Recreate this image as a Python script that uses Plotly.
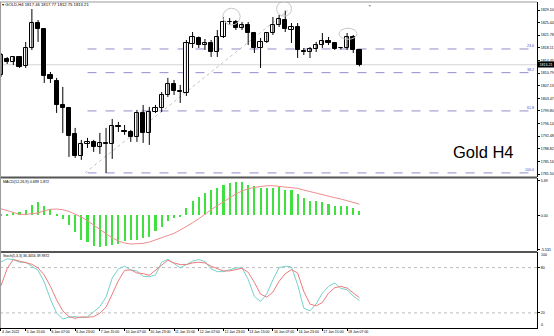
import plotly.graph_objects as go

# ---------------- data ----------------
opens = [1810.25, 1814.89, 1814.02, 1815.47, 1812.86, 1818.08, 1825.33, 1823.59, 1810.25, 1808.51,
         1801.55, 1800.68, 1793.14, 1786.76, 1790.24, 1790.82, 1789.37, 1790.53, 1790.24, 1795.46,
         1794.01, 1793.72, 1792.27, 1799.23, 1793.43, 1799.52, 1800.68, 1804.45, 1807.64, 1805.61,
         1805.03, 1819.24, 1820.98, 1818.95, 1819.53, 1816.92, 1821.27, 1825.68, 1825.62, 1823.88,
         1824.75, 1822.43, 1818.08, 1819.82, 1822.43, 1824.75, 1826.20, 1823.30, 1824.17, 1817.01,
         1816.92, 1817.79, 1818.95, 1820.11, 1819.53, 1818.08, 1818.08, 1821.27, 1817.46]
highs = [1816.63, 1815.47, 1815.76, 1815.76, 1819.82, 1829.39, 1826.20, 1823.88, 1811.12, 1809.38,
         1806.77, 1800.97, 1794.88, 1791.40, 1791.98, 1791.40, 1793.43, 1794.88, 1797.49, 1796.62,
         1795.75, 1794.30, 1800.10, 1801.55, 1800.97, 1801.55, 1805.32, 1809.38, 1808.80, 1807.35,
         1820.40, 1822.72, 1821.41, 1820.69, 1820.40, 1823.30, 1827.07, 1826.78, 1826.20, 1825.62,
         1825.62, 1822.72, 1820.98, 1822.72, 1827.07, 1827.65, 1828.90, 1825.33, 1825.33, 1818.08,
         1818.37, 1819.82, 1822.43, 1821.27, 1819.82, 1818.37, 1822.43, 1821.85, 1817.77]
lows = [1809.67, 1813.44, 1813.15, 1812.28, 1812.28, 1817.50, 1819.82, 1807.93, 1807.93, 1799.23,
        1793.43, 1786.47, 1786.18, 1785.60, 1789.08, 1787.92, 1787.34, 1781.83, 1785.89, 1793.72,
        1792.85, 1790.82, 1790.82, 1790.53, 1789.95, 1799.23, 1799.52, 1803.87, 1804.45, 1802.13,
        1804.16, 1818.08, 1818.08, 1817.50, 1815.47, 1815.47, 1820.98, 1824.75, 1823.30, 1823.30,
        1818.95, 1816.63, 1812.28, 1819.53, 1821.85, 1824.17, 1822.72, 1819.53, 1815.18, 1816.05,
        1815.18, 1816.92, 1818.08, 1818.95, 1817.50, 1817.65, 1817.50, 1816.63, 1812.75]
closes = [1816.05, 1814.02, 1815.47, 1812.57, 1818.08, 1825.33, 1823.59, 1809.96, 1809.09, 1801.55,
          1800.68, 1792.56, 1786.76, 1790.24, 1790.82, 1789.37, 1790.53, 1790.24, 1795.46, 1795.02,
          1793.57, 1792.27, 1799.23, 1793.43, 1799.52, 1800.68, 1804.45, 1807.64, 1805.61, 1805.32,
          1819.53, 1821.27, 1818.95, 1819.53, 1816.92, 1821.27, 1825.62, 1825.53, 1823.88, 1824.75,
          1822.43, 1818.08, 1819.82, 1822.43, 1824.75, 1826.49, 1823.59, 1824.17, 1817.50, 1816.86,
          1817.79, 1818.95, 1820.11, 1819.53, 1817.79, 1817.93, 1821.27, 1817.50, 1813.21]

macd_main = [0.05, 0.22, 0.38, 0.59, 0.86, 1.67, 2.21, 1.46, 1.03, 0.11,
             -0.59, -1.51, -2.70, -3.94, -4.32, -4.91, -5.18, -5.02, -4.75, -4.64,
             -4.21, -4.00, -3.94, -3.67, -3.46, -2.59, -1.84, -0.97, -0.43, -0.16,
             1.19, 2.27, 3.02, 3.62, 4.16, 4.43, 4.97, 5.24, 5.40, 5.40,
             4.97, 4.70, 4.43, 4.43, 4.43, 4.54, 4.16, 4.16, 3.46, 2.81,
             2.38, 2.27, 2.16, 1.84, 1.57, 1.46, 1.46, 1.19, 0.699]
macd_signal = [1.13, 0.81, 0.43, 0.22, 0.22, 0.27, 0.43, 0.81, 1.03, 1.08,
               0.97, 0.70, 0.27, -0.22, -0.81, -1.51, -2.27, -3.02, -3.62, -4.10,
               -4.43, -4.59, -4.59, -4.48, -4.27, -3.94, -3.62, -3.24, -2.86, -2.32,
               -1.78, -1.13, -0.49, 0.27, 0.97, 1.62, 2.27, 2.92, 3.51, 4.00,
               4.37, 4.59, 4.75, 4.86, 4.86, 4.75, 4.70, 4.64, 4.43, 4.16,
               3.89, 3.62, 3.35, 3.13, 2.92, 2.70, 2.43, 2.11, 1.872]

stoch_main = [87.6, 91.6, 90.7, 87.1, 87.1, 81.8, 76.4, 60.9, 38.2, 19.6,
              12.0, 14.2, 15.1, 13.8, 14.7, 21.3, 28.4, 40.9, 66.2, 78.2,
              81.8, 76.9, 75.6, 68.4, 68.0, 70.2, 87.1, 91.1, 85.3, 79.6,
              84.0, 88.4, 90.7, 88.0, 78.2, 74.7, 74.7, 77.3, 79.6, 79.6,
              64.4, 41.8, 35.1, 44.9, 64.0, 80.0, 81.8, 80.9, 57.3, 26.2,
              22.7, 32.0, 46.2, 55.1, 59.6, 52.4, 50.7, 42.2, 36.3456]
stoch_signal = [56.0, 78.7, 90.7, 88.4, 87.1, 84.4, 79.6, 70.2, 55.1, 37.3,
                22.7, 15.1, 12.9, 14.7, 14.2, 15.1, 19.6, 27.6, 44.9, 62.7,
                76.4, 76.9, 72.9, 72.0, 69.8, 76.4, 83.1, 89.8, 86.2, 84.0,
                84.0, 86.2, 87.1, 86.2, 81.8, 78.2, 75.6, 75.6, 77.3, 79.1,
                73.8, 60.4, 44.9, 40.9, 47.6, 61.8, 72.0, 77.3, 72.9, 48.4,
                31.6, 29.3, 33.8, 46.2, 53.3, 55.1, 52.9, 46.7, 39.9872]

x_labels = ["4 Jan 2022", "5 Jan 15:00", "6 Jan 07:00", "6 Jan 23:00", "7 Jan 15:00",
            "10 Jan 07:00", "10 Jan 23:00", "11 Jan 15:00", "12 Jan 07:00", "12 Jan 23:00",
            "13 Jan 15:00", "14 Jan 07:00", "14 Jan 23:00", "17 Jan 15:00", "18 Jan 07:00"]
x_label_bars = [0, 4, 8, 12, 16, 20, 24, 28, 32, 36, 40, 44, 48, 52, 56]

price_ticks = [1829.10, 1825.44, 1821.78, 1818.11, 1814.45, 1810.79, 1807.13,
               1803.47, 1799.80, 1796.14, 1792.48, 1788.82, 1785.16, 1781.50]
macd_ticks = [5.69, 0.0, -5.531]
macd_tick_text = ["5.69", "0.00", "-5.531"]
stoch_levels = [80, 20]

fib_levels = [23.6, 38.2, 61.8, 100.0]
fib_high, fib_low = 1828.90, 1781.83
fib_start_bar, fib_end_bar = 13.6, 46.4

header = "\u25be GOLD,H4 1817.46 1817.77 1812.75 1813.21"
macd_title = "MACD(12,26,9) 0.699 1.872"
stoch_title = "Stoch(5,3,3) 36.3456 39.9872"
last_price = closes[-1]

# ---------------- figure ----------------
n = len(closes)
xs = list(range(n))
X_RANGE = [-0.16, 86.73]
FONT = "Liberation Sans"

fig = go.Figure()

# wicks
wx, wy = [], []
for i in xs:
    wx += [i, i, None]
    wy += [lows[i], highs[i], None]
fig.add_trace(go.Scatter(x=wx, y=wy, mode="lines", line=dict(color="black", width=1),
                         hoverinfo="skip", xaxis="x", yaxis="y"))

# bodies
for up in (True, False):
    bx, bb, bh = [], [], []
    for i in xs:
        if (closes[i] >= opens[i]) == up:
            bx.append(i)
            bb.append(min(opens[i], closes[i]))
            bh.append(max(abs(closes[i] - opens[i]), 0.2))
    fig.add_trace(go.Bar(x=bx, y=bh, base=bb, width=0.68,
                         marker=dict(color="white" if up else "black",
                                     line=dict(color="black", width=1)),
                         xaxis="x", yaxis="y"))

# MACD
fig.add_trace(go.Bar(x=xs, y=macd_main, width=0.34, marker=dict(color="#3fe03f", line=dict(width=0)),
                     xaxis="x2", yaxis="y2"))
fig.add_trace(go.Scatter(x=xs, y=macd_signal, mode="lines", line=dict(color="#f08c8c", width=1),
                         xaxis="x2", yaxis="y2"))

# Stochastic
fig.add_trace(go.Scatter(x=xs, y=stoch_main, mode="lines", line=dict(color="#74d2cc", width=1),
                         xaxis="x3", yaxis="y3"))
fig.add_trace(go.Scatter(x=xs, y=stoch_signal, mode="lines", line=dict(color="#ee7b7b", width=1),
                         xaxis="x3", yaxis="y3"))

shapes = []
annotations = []

# bid line
shapes.append(dict(type="line", xref="paper", yref="y", x0=0, x1=1, y0=last_price, y1=last_price,
                   line=dict(color="#d4d4d4", width=1), layer="below"))
# fib trend (dotted)
shapes.append(dict(type="line", xref="x", yref="y", x0=fib_start_bar, y0=fib_low, x1=fib_end_bar, y1=fib_high,
                   line=dict(color="#c4c4c4", width=1, dash="dot"), layer="below"))
# fib levels
for lv in fib_levels:
    p = fib_high - lv / 100.0 * (fib_high - fib_low)
    shapes.append(dict(type="line", xref="x", yref="y", x0=fib_start_bar + 0.4, x1=X_RANGE[1], y0=p, y1=p,
                       line=dict(color="#8f8fcc", width=1, dash="dash"), layer="below"))
    annotations.append(dict(xref="paper", yref="y", x=0.996, y=p, xanchor="right", yanchor="bottom",
                            text=f"{lv:.1f}", showarrow=False, borderpad=0,
                            font=dict(family=FONT, size=3.6, color="#4a4ac8")))

# ellipses
for (x0, x1, y0, y1) in [(35.9, 38.7, 1824.75, 1829.6), (44.6, 47.0, 1827.3, 1831.6), (54.7, 57.6, 1820.6, 1823.8)]:
    shapes.append(dict(type="circle", xref="x", yref="y", x0=x0, x1=x1, y0=y0, y1=y1,
                       line=dict(color="#c8c8c8", width=1)))

# stochastic level lines
for lv in stoch_levels:
    shapes.append(dict(type="line", xref="paper", yref="y3", x0=0, x1=1, y0=lv, y1=lv,
                       line=dict(color="#bdbdbd", width=1, dash="dot"), layer="below"))

# pane borders
shapes.append(dict(type="line", xref="paper", yref="paper", x0=0, x1=1, y0=1, y1=1,
                   line=dict(color="#9a9a9a", width=1)))
shapes.append(dict(type="line", xref="paper", yref="paper", x0=0, x1=1, y0=0.4617, y1=0.4617,
                   line=dict(color="#555555", width=2)))
shapes.append(dict(type="line", xref="paper", yref="paper", x0=0, x1=1, y0=0.2331, y1=0.2331,
                   line=dict(color="#555555", width=2)))
shapes.append(dict(type="line", xref="paper", yref="paper", x0=0.001, x1=0.001, y0=0, y1=1,
                   line=dict(color="#9a9a9a", width=1)))

# texts
annotations.append(dict(xref="paper", yref="paper", x=0.001, y=0.9925, xanchor="left", yanchor="middle",
                        text=header, showarrow=False, borderpad=0,
                        font=dict(family=FONT, size=4.2, color="black")))
annotations.append(dict(xref="paper", yref="paper", x=0.003, y=0.4475, xanchor="left", yanchor="middle",
                        text=macd_title, showarrow=False, borderpad=0,
                        font=dict(family=FONT, size=3.7, color="black")))
annotations.append(dict(xref="paper", yref="paper", x=0.003, y=0.2195, xanchor="left", yanchor="middle",
                        text=stoch_title, showarrow=False, borderpad=0,
                        font=dict(family=FONT, size=3.5, color="black")))
annotations.append(dict(xref="paper", yref="paper", x=0.9, y=0.5399, xanchor="center", yanchor="middle",
                        text="Gold H4", showarrow=False,
                        font=dict(family=FONT, size=16.5, color="black")))
annotations.append(dict(xref="paper", yref="y", x=1.0, y=last_price, xanchor="left", yanchor="middle",
                        text=f"{last_price:.2f}", showarrow=False, bgcolor="black", borderpad=0.6,
                        width=15, font=dict(family=FONT, size=3.6, color="white")))
annotations.append(dict(xref="paper", yref="y3", x=1.0, y=96.5, xanchor="left", yanchor="middle", xshift=3,
                        text="100", showarrow=False, borderpad=0, font=dict(family=FONT, size=3.6, color="black")))
annotations.append(dict(xref="paper", yref="y3", x=1.0, y=4.0, xanchor="left", yanchor="middle", xshift=3,
                        text="0", showarrow=False, borderpad=0, font=dict(family=FONT, size=3.6, color="black")))
annotations.append(dict(xref="paper", yref="paper", x=0.689, y=0.997, xanchor="center", yanchor="top",
                        text="\u25bc", showarrow=False, borderpad=0, font=dict(family=FONT, size=3.5, color="#888888")))

ax_common = dict(range=X_RANGE, showgrid=False, zeroline=False, fixedrange=True, automargin=False)
yax_common = dict(side="right", showgrid=False, zeroline=False, showline=True, linecolor="black",
                  linewidth=1, ticks="outside", ticklen=2, tickcolor="black", tickwidth=1, automargin=False,
                  tickfont=dict(family=FONT, size=3.6, color="black"))

fig.update_layout(
    width=554, height=336,
    margin=dict(l=0, r=17, t=2, b=8, autoexpand=False),
    paper_bgcolor="white", plot_bgcolor="white",
    showlegend=False, barmode="overlay", bargap=0,
    xaxis=dict(domain=[0, 1], anchor="y", showticklabels=False, ticks="", **ax_common),
    xaxis2=dict(domain=[0, 1], anchor="y2", showticklabels=False, ticks="", **ax_common),
    xaxis3=dict(domain=[0, 1], anchor="y3", tickmode="array", tickvals=x_label_bars, ticktext=x_labels,
                ticks="outside", ticklen=2, tickcolor="black", ticklabelposition="outside right",
                tickangle=0, showline=True, linecolor="black", linewidth=1,
                tickfont=dict(family=FONT, size=3.5, color="black"), **ax_common),
    yaxis=dict(domain=[0.4632, 1.0], anchor="x", range=[1780.64, 1831.42], tickmode="array",
               tickvals=price_ticks, ticktext=[f"{v:.2f}" for v in price_ticks], **yax_common),
    yaxis2=dict(domain=[0.2362, 0.4586], anchor="x2", range=[-5.72, 6.03], tickmode="array",
                tickvals=macd_ticks, ticktext=macd_tick_text, **yax_common),
    yaxis3=dict(domain=[0.0, 0.2316], anchor="x3", range=[0, 100], tickmode="array",
                tickvals=stoch_levels, ticktext=[str(v) for v in stoch_levels], **yax_common),
    shapes=shapes, annotations=annotations,
)

fig.write_html("out.html")
